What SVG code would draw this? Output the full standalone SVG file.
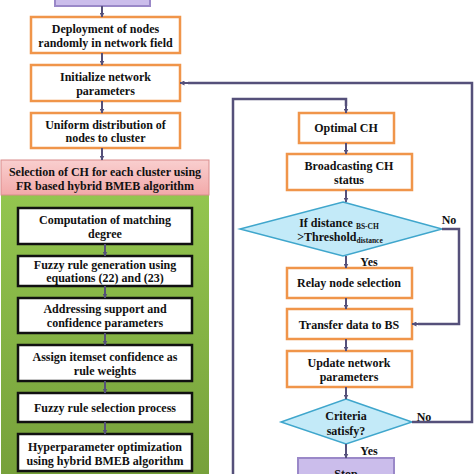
<svg xmlns="http://www.w3.org/2000/svg" width="474" height="474" viewBox="0 0 474 474">
<defs>
<linearGradient id="green" x1="0" y1="0" x2="0" y2="1"><stop offset="0" stop-color="#93C54F"/><stop offset="1" stop-color="#76A03A"/></linearGradient>
<linearGradient id="pink" x1="0" y1="0" x2="0" y2="1"><stop offset="0" stop-color="#F9CFCF"/><stop offset="1" stop-color="#F2A9A9"/></linearGradient>
<marker id="ah" viewBox="0 0 10 10" refX="9" refY="5" markerWidth="5" markerHeight="5" orient="auto" markerUnits="userSpaceOnUse"><path d="M0,0 L10,5 L0,10 z" fill="#55507A"/></marker>
<style>
text{font-family:"Liberation Serif","Times New Roman",serif;font-weight:bold;font-size:12px;fill:#111;text-anchor:middle}
.sub{font-size:7.5px}
.or{fill:#fff;stroke:#F0954A;stroke-width:2.5}
.bk{fill:#fff;stroke:#111;stroke-width:2.5}
.pu{fill:#CBBDEB;stroke:#9A88C8;stroke-width:2}
.dm{fill:#C3EAF8;stroke:#3FA6CC;stroke-width:1.5}
.c{fill:none;stroke:#55507A;stroke-width:2;marker-end:url(#ah)}
.l{fill:none;stroke:#55507A;stroke-width:2.5}
</style>
</defs>
<g id="start"><rect class="pu" x="55" y="-10" width="95" height="16"/></g>
<g id="deploy"><rect class="or" x="31" y="17" width="149" height="36"/><text x="105.5" y="33">Deployment of nodes</text><text x="105.5" y="47">randomly in network field</text></g>
<g id="init"><rect class="or" x="31" y="65" width="149" height="36"/><text x="105.5" y="81">Initialize network</text><text x="105.5" y="95">parameters</text></g>
<g id="uniform"><rect class="or" x="31" y="113" width="149" height="35"/><text x="105.5" y="129">Uniform distribution of</text><text x="105.5" y="142">nodes to cluster</text></g>
<g id="selection"><rect x="1" y="195" width="208" height="285" fill="url(#green)"/><rect x="1" y="160" width="208" height="35" fill="url(#pink)" stroke="#D98C8C" stroke-width="1"/><text x="105" y="176">Selection of CH for each cluster using</text><text x="105" y="190">FR based hybrid BMEB algorithm</text></g>
<g id="match"><rect class="bk" x="18" y="208" width="174" height="36"/><text x="105" y="224">Computation of matching</text><text x="105" y="238">degree</text></g>
<g id="fuzzygen"><rect class="bk" x="18" y="256" width="174" height="30"/><text x="105" y="269">Fuzzy rule generation using</text><text x="105" y="282">equations (22) and (23)</text></g>
<g id="support"><rect class="bk" x="18" y="298" width="174" height="35"/><text x="105" y="313">Addressing support and</text><text x="105" y="327">confidence parameters</text></g>
<g id="assign"><rect class="bk" x="18" y="345" width="174" height="36"/><text x="105" y="361">Assign itemset confidence as</text><text x="105" y="375">rule weights</text></g>
<g id="fuzzysel"><rect class="bk" x="18" y="393" width="174" height="29"/><text x="105" y="412">Fuzzy rule selection process</text></g>
<g id="hyper"><rect class="bk" x="18" y="434" width="174" height="37"/><text x="105" y="451">Hyperparameter optimization</text><text x="105" y="465">using hybrid BMEB algorithm</text></g>
<g id="optimal"><rect class="or" x="299" y="113" width="95" height="30"/><text x="346" y="132">Optimal CH</text></g>
<g id="broadcast"><rect class="or" x="287" y="154" width="125" height="36"/><text x="349" y="170">Broadcasting CH</text><text x="349" y="184">status</text></g>
<g id="dist"><polygon class="dm" points="343,202 442,229 343,256 240,229"/><text x="339" y="227">If distance <tspan class="sub" dy="2">BS-CH</tspan></text><text x="340" y="241">&gt;Threshold<tspan class="sub" dy="2">distance</tspan></text></g>
<g id="relay"><rect class="or" x="287" y="268" width="125" height="30"/><text x="349" y="287">Relay node selection</text></g>
<g id="transfer"><rect class="or" x="287" y="309" width="125" height="30"/><text x="349" y="329">Transfer data to BS</text></g>
<g id="update"><rect class="or" x="287" y="351" width="125" height="36"/><text x="349" y="367">Update network</text><text x="349" y="381">parameters</text></g>
<g id="criteria"><polygon class="dm" points="346,399 412,422 346,444 281,422"/><text x="346" y="420">Criteria</text><text x="346" y="435">satisfy?</text></g>
<g id="stop"><rect class="pu" x="298" y="458" width="96" height="30"/><text x="346" y="478">Stop</text></g>
<g id="connectors">
<path class="c" d="M102,6 V17"/>
<path class="c" d="M102,53 V65"/>
<path class="c" d="M102,101 V113"/>
<path class="c" d="M102,148 V160"/>
<path class="c" d="M105,244 V256"/>
<path class="c" d="M105,286 V298"/>
<path class="c" d="M105,333 V345"/>
<path class="c" d="M105,381 V393"/>
<path class="c" d="M105,422 V434"/>
<path class="c" d="M346,143 V154"/>
<path class="c" d="M346,190 V202"/>
<path class="c" d="M346,256 V268"/>
<path class="c" d="M346,298 V309"/>
<path class="c" d="M346,339 V351"/>
<path class="c" d="M346,387 V399"/>
<path class="c" d="M346,444 V458"/>
<path class="l" d="M442,229 H459 V324 H418"/><path class="c" d="M420,324 H412"/>
<path class="l" d="M412,422 H472 V83 H188"/><path class="c" d="M190,83 H180"/>
<path class="l" d="M233,480 V99 H346 V106"/><path class="c" d="M346,104 V113"/>
<text x="449" y="224">No</text>
<text x="424" y="421">No</text>
<text x="369" y="266">Yes</text>
<text x="369" y="455">Yes</text>
</g>
</svg>
